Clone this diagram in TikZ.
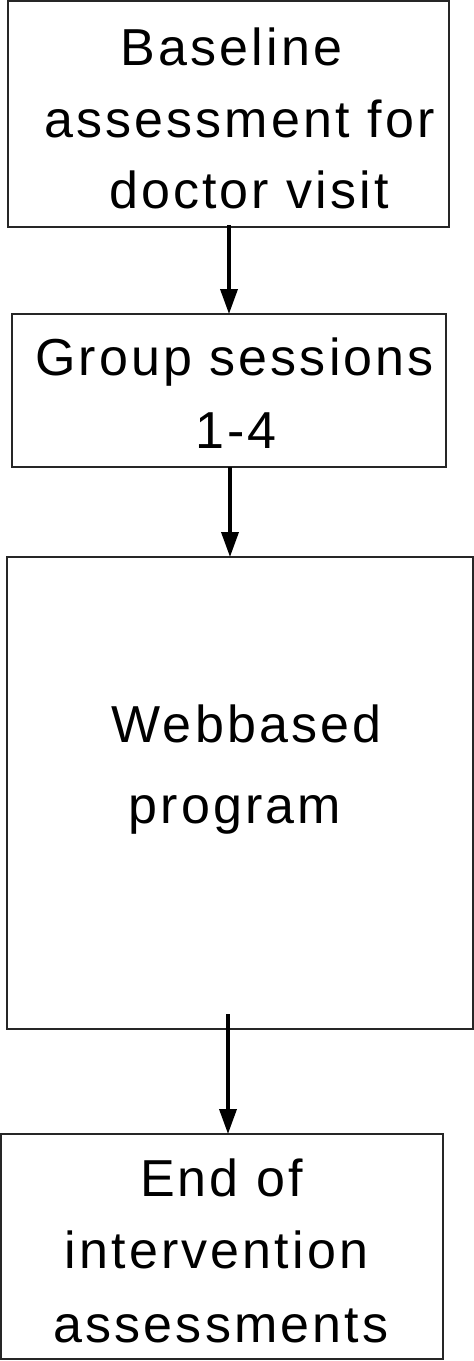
\documentclass[tikz,border=0pt]{standalone}
\usepackage{fontspec}
\newfontfamily\lblfont[LetterSpace=6]{Liberation Sans}
\usetikzlibrary{arrows.meta}
\begin{document}
\begin{tikzpicture}[x=1pt,y=-1pt,
  box/.style={draw=black!85,line width=2.2pt,rectangle,inner sep=0pt,outer sep=0pt},
  lbl/.style={anchor=base,inner sep=0pt,font=\lblfont\fontsize{52}{62}\selectfont},
  arr/.style={line width=3.6pt,-{Triangle[length=25pt,width=17pt]}}]
\useasboundingbox (0,0) rectangle (474,1361);
\node[box,minimum width=441pt,minimum height=226pt] (b1) at (228.5,114) {};
\node[box,minimum width=434pt,minimum height=153pt] (b2) at (229,390.5) {};
\node[box,minimum width=466pt,minimum height=472pt] (b3) at (240,793) {};
\node[box,minimum width=442pt,minimum height=225pt] (b4) at (222,1246.5) {};
\node[lbl] (t1a) at (231.5,65) {Baseline};
\node[lbl] (t1b) at (239.5,137) {assessment for};
\node[lbl] (t1c) at (249,208) {doctor visit};
\node[lbl] (t2a) at (234.5,375) {Group sessions};
\node[lbl] (t2b) at (236,448) {1-4};
\node[lbl] (t3a) at (246.5,742) {Webbased};
\node[lbl] (t3b) at (235,823) {program};
\node[lbl] (t4a) at (221.5,1196) {End of};
\node[lbl] (t4b) at (216.5,1268) {intervention};
\node[lbl] (t4c) at (221,1342) {assessments};
\coordinate (a1) at (229,225);
\coordinate (a2) at (230,467);
\coordinate (a3) at (228,1014);
\draw[arr] (a1) -- (b2.north -| a1);
\draw[arr] (a2) -- (b3.north -| a2);
\draw[arr] (a3) -- (b4.north -| a3);
\end{tikzpicture}
\end{document}
